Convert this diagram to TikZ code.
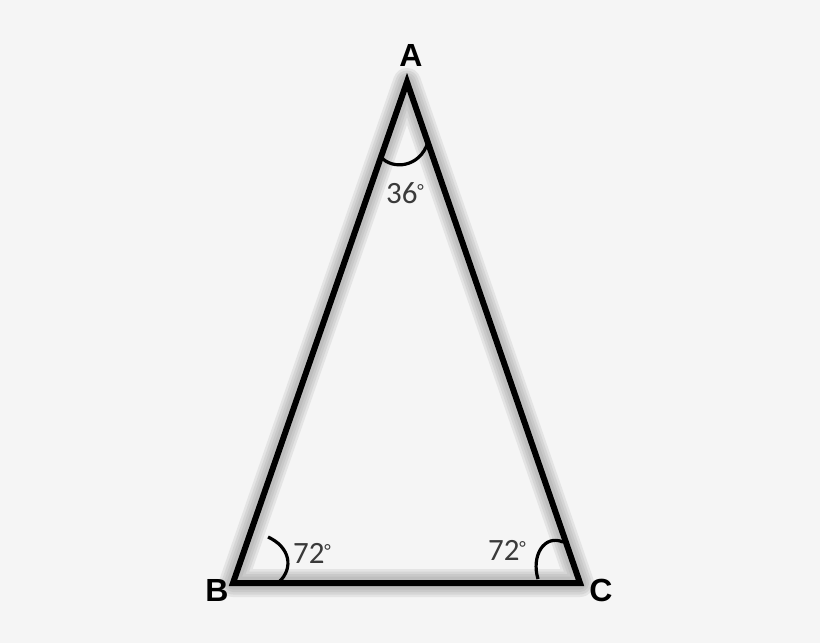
\documentclass[tikz,border=0pt]{standalone}
\usepackage{fontspec}
\setmainfont{Carlito}
\newfontfamily\vertfont{Liberation Sans}
\definecolor{bg}{HTML}{F5F5F5}
\definecolor{numcol}{HTML}{3A3A3A}
\newcommand{\degsign}{\raisebox{6pt}{\fontsize{19}{19}\selectfont °}}
\tikzset{
  vertlabel/.style={font=\vertfont\bfseries\fontsize{32}{32}\selectfont, text=black, inner sep=0pt},
  anglabel/.style={font=\fontsize{31}{31}\selectfont, text=numcol, inner sep=0pt},
  side/.style={line width=6pt, black, line join=miter},
  glow/.style={line width=#1, gray, opacity=0.14, line join=round},
  anglearc/.style={line width=3.2pt, black, line cap=butt}
}
\begin{document}
\begin{tikzpicture}[x=1pt,y=-1pt]
\fill[bg] (0,0) rectangle (820,643);
\useasboundingbox (0,0) rectangle (820,643);
\coordinate (A) at (407,82);
\coordinate (B) at (233,583);
\coordinate (C) at (580,583);
\foreach \w in {28,23,18,13}{
  \draw[glow=\w pt] (A) -- (B) -- (C) -- cycle;
}
\draw[side] (A) -- (B) -- (C) -- cycle;
% angle arcs
\draw[anglearc] (381,157) .. controls (392,170) and (420,168) .. (428,142);
\draw[anglearc] (268,537) .. controls (290,547) and (294,568) .. (279,582);
\draw[anglearc] (538,579) .. controls (531,556) and (544,534) .. (563,542);
% labels
\node[vertlabel] (lA) at (411,55) {A};
\node[vertlabel] (lB) at (217,590) {B};
\node[vertlabel] (lC) at (601,590) {C};
\node[anglabel] (aA) at (405,193) {36\degsign};
\node[anglabel] (aB) at (312,553) {72\degsign};
\node[anglabel] (aC) at (507,550) {72\degsign};
\end{tikzpicture}
\end{document}
